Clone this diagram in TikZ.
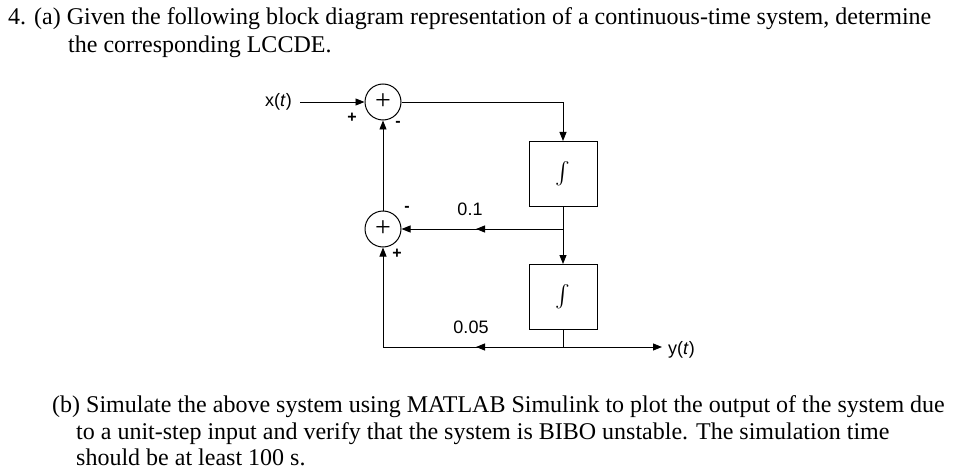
\documentclass[tikz,border=0pt]{standalone}
\usepackage{fontspec}
\setmainfont{Liberation Serif}
\newfontfamily\lsans{Liberation Sans}
\usetikzlibrary{arrows.meta}
\begin{document}
\begin{tikzpicture}[x=1pt,y=-1pt,
  txt/.style={anchor=base west,inner sep=0,font=\fontsize{24}{28}\selectfont},
  lab/.style={inner sep=0,font=\lsans\fontsize{18}{20}\selectfont},
  sgn/.style={inner sep=0,font=\lsans\bfseries\fontsize{16}{18}\selectfont},
  sum/.style={circle,draw,line width=1pt,minimum size=36pt,inner sep=0,font=\fontsize{28}{30}\selectfont},
  blk/.style={draw,line width=1pt,minimum width=68pt,minimum height=65pt,inner sep=0},
  ln/.style={line width=0.9pt},
  arr/.style={ln,-{Triangle[length=9pt,width=7pt]}}]
\useasboundingbox (0,0) rectangle (975,476);
\node[txt] (t1) at (8,25) {4. (a) Given the following block diagram representation of a continuous-time system, determine};
\node[txt] (t2) at (68,53) {the corresponding LCCDE.};
\node[txt] (t3) at (52,412) {(b) Simulate the above system using MATLAB Simulink to plot the output of the system due};
\node[txt] (t4) at (76,439) {to a unit-step input and verify that the system is BIBO unstable. The simulation time};
\node[txt] (t5) at (76,465) {should be at least 100 s.};

\node[lab,anchor=east] (x) at (292,102) {x(\textit{t})};
\node[sum] (s1) at (383,102) {+};
\node[sum] (s2) at (383,229) {+};
\node[blk] (i1) at (563,174) {\scalebox{2.2}{$\int$}};
\node[blk] (i2) at (563,297) {\scalebox{2.2}{$\int$}};
\coordinate (j1) at (563,229);
\coordinate (j2) at (563,347);
\coordinate (c1) at (563,102);
\coordinate (c2) at (383,347);
\coordinate (x0) at (300,102);
\coordinate (out) at (662,347);
\node[lab,anchor=west] (y) at (668,350) {y(\textit{t})};
\node[lab] (k1) at (470,209) {0.1};
\node[lab] (k2) at (471,327) {0.05};
\node[sgn] (p1) at (352,118) {+};
\node[sgn] (m1) at (398,124) {-};
\node[sgn] (m2) at (407,209) {-};
\node[sgn] (p2) at (397,254) {+};

\draw[arr] (x0) -- (s1);
\draw[arr] (s1) -- (c1) -- (i1);
\draw[arr] (i1) -- (i2);
\draw[arr] (j1) -- (s2);
\draw[arr] (j1) -- (476,229);
\draw[arr] (s2) -- (s1);
\draw[ln] (i2) -- (j2);
\draw[arr] (c2) -- (s2);
\draw[ln] (j2) -- (c2);
\draw[arr] (j2) -- (476,347);
\draw[arr] (j2) -- (out);
\end{tikzpicture}
\end{document}
